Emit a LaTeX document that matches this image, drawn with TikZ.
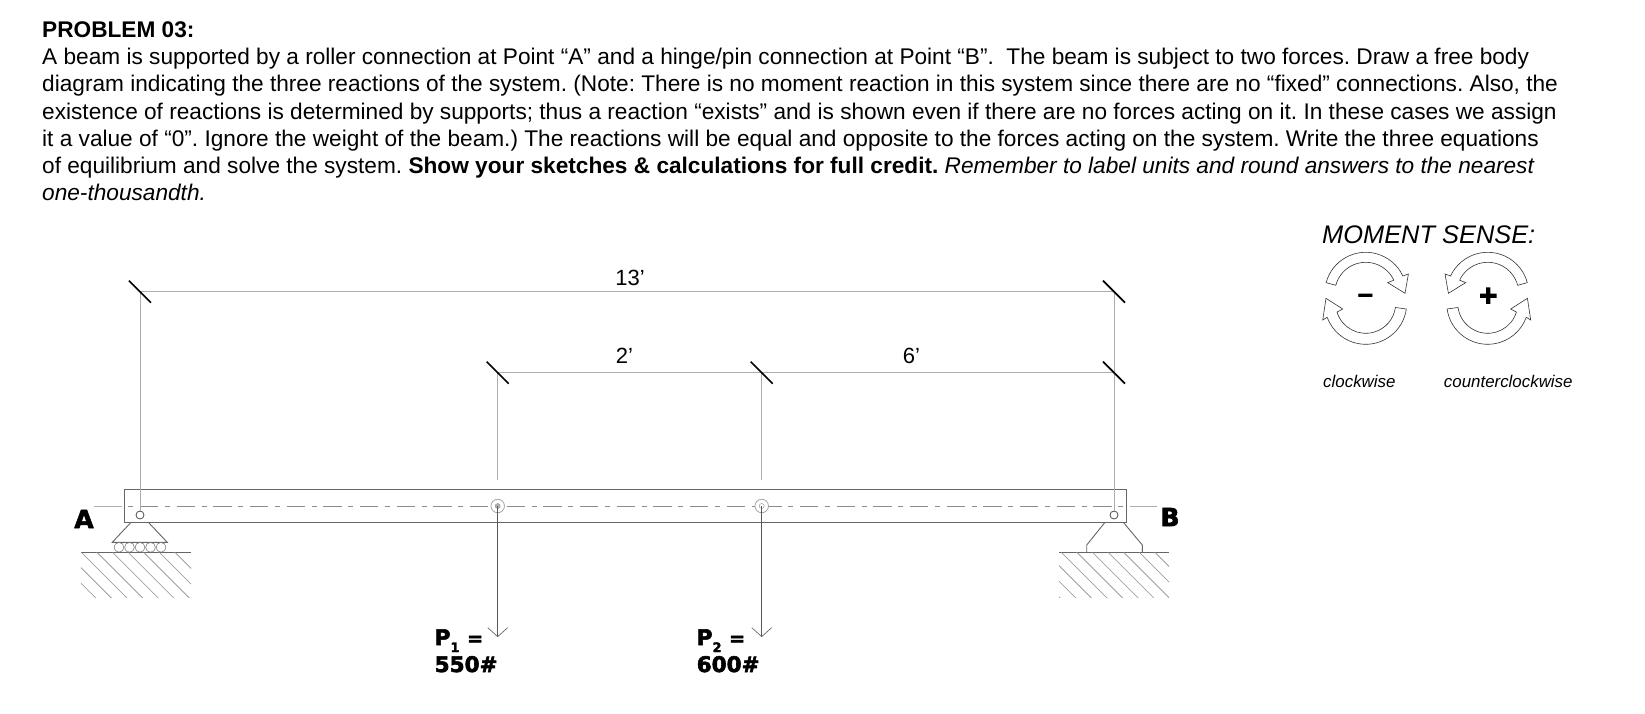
\documentclass[tikz,border=0pt]{standalone}
\usepackage{fontspec}
\setmainfont{Liberation Sans}
\newfontfamily\heavyfont[FakeBold=2.5]{DejaVu Sans Bold}
\newfontfamily\blackfont[FakeBold=6]{DejaVu Sans Bold}
\usetikzlibrary{arrows.meta,calc}

\tikzset{
  part/.style={draw=black!60,line width=0.9pt},
  guide/.style={draw=black!32,line width=0.8pt},
  roller/.style={draw=black!50,line width=0.6pt},
  hatch/.style={draw=black!45,line width=0.6pt},
  tick/.style={draw=black,line width=1.7pt},
  centerline/.style={draw=black!45,line width=0.8pt,dash pattern=on 5pt off 6.67pt on 18.33pt off 6.67pt},
  load/.style={draw=black!65,line width=1pt,-{Straight Barb[length=9pt,width=20pt,line width=0.6pt]}},
  pin/.style={circle,draw=black!70,fill=white,line width=0.8pt,inner sep=0pt,minimum size=8pt},
  joint/.style={circle,draw=black!35,fill=white,line width=0.8pt,inner sep=0pt,minimum size=13.5pt},
  turn/.style={draw=black!80,fill=white,line width=0.6pt},
  heavy/.style={font=\heavyfont\fontsize{21.5}{24}\selectfont,inner sep=0pt},
  moment/.pic={
    \path [turn] (195:41) arc[start angle=195,end angle=335,radius=41] -- (42.7,-19.3) -- (39.3,0)
      -- (22,-10.7) -- (335:31) arc[start angle=335,end angle=195,radius=31] -- cycle;
    \path [turn] (8:41) ++(0,10) arc[start angle=8,end angle=160,radius=41] -- (-43,26.7) -- (-39.7,5)
      -- (-23,15.7) -- ($(163:30)+(0,10)$) arc[start angle=163,end angle=8,radius=30] -- cycle;
  }
}

\begin{document}
\begin{tikzpicture}[x=1pt,y=-1pt]
  \useasboundingbox (0,0) rectangle (1645,713);

  \node (problem) [anchor=north west,inner sep=0pt,align=left,font=\frenchspacing\fontsize{22.65}{27.2}\selectfont] at (42,21.5) {%
    \textbf{PROBLEM 03:}\\
    A beam is supported by a roller connection at Point “A” and a hinge/pin connection at Point “B”.\ \ The beam is subject to two forces. Draw a free body\\
    diagram indicating the three reactions of the system. (Note: There is no moment reaction in this system since there are no “fixed” connections. Also, the\\
    existence of reactions is determined by supports; thus a reaction “exists” and is shown even if there are no forces acting on it. In these cases we assign\\
    it a value of “0”. Ignore the weight of the beam.) The reactions will be equal and opposite to the forces acting on the system. Write the three equations\\
    of equilibrium and solve the system. \textbf{Show your sketches \& calculations for full credit.} \textit{Remember to label units and round answers to the nearest}\\
    \textit{one-thousandth.}};

  % beam
  \node (beam) [part,minimum width=1002pt,minimum height=33pt,inner sep=0pt,anchor=north west] at (124,489) {};
  \draw [guide] (94.3,506) -- (121.7,506);
  \draw [guide] (1130,506) -- (1156.7,506);
  \draw [centerline] (128.3,506) -- (1123.5,506);

  \node (pinA) [pin] at (140,515) {};
  \node (pinB) [pin] at (1114,515) {};
  \node (P1) [joint] at (497.7,506) {};
  \node (P2) [joint] at (761.7,506) {};
  \node (P1in) [circle,draw=black!45,fill=black!30,inner sep=0pt,minimum size=5pt] at (P1) {};
  \node (P2in) [circle,draw=black!45,fill=white,inner sep=0pt,minimum size=5pt] at (P2) {};

  % dimensions
  \coordinate (dA) at (140,291.7);
  \coordinate (dB) at (1114,291.7);
  \coordinate (d1) at (497.7,372.7);
  \coordinate (d2) at (761.7,372.7);
  \coordinate (d3) at (1114,372.7);
  \coordinate (e1) at (497.7,480);
  \coordinate (e2) at (761.7,480);
  \path [guide] (dA) -- (pinA.north);
  \path [guide] (dB) -- (pinB.north);
  \path [guide] (d1) -- (e1);
  \path [guide] (d2) -- (e2);
  \path [guide] (dA) -- (dB);
  \path [guide] (d1) -- (d3);
  \foreach \pt in {dA,dB,d1,d2,d3}
    \draw [tick] ($(\pt)+(-11,-11)$) -- ($(\pt)+(11,11)$);
  \node (len13) [font=\fontsize{22}{24}\selectfont,inner sep=0pt] at (630,277.5) {13’};
  \node (len2) [font=\fontsize{22}{24}\selectfont,inner sep=0pt] at (624.5,355.5) {2’};
  \node (len6) [font=\fontsize{22}{24}\selectfont,inner sep=0pt] at (911.5,355.5) {6’};

  % loads
  \coordinate (tip1) at (497.7,637);
  \coordinate (tip2) at (761.7,637);
  \path [load] (P1.center) -- (tip1);
  \path [load] (P2.center) -- (tip2);
  \node (P1lab) [heavy,anchor=base west] at (434.5,645) {P};
  \node (P1sub) [heavy,anchor=base,font=\heavyfont\fontsize{13}{14}\selectfont] at (455,652) {1};
  \node (P1eq) [heavy,anchor=base west,font=\heavyfont\fontsize{19}{24}\selectfont] at (467,645) {=};
  \node (P1val) [heavy,anchor=base west] at (434.5,672) {550\#};
  \node (P2lab) [heavy,anchor=base west] at (696.5,645) {P};
  \node (P2sub) [heavy,anchor=base,font=\heavyfont\fontsize{13}{14}\selectfont] at (717,652) {2};
  \node (P2eq) [heavy,anchor=base west,font=\heavyfont\fontsize{19}{24}\selectfont] at (729,645) {=};
  \node (P2val) [heavy,anchor=base west] at (696.5,672) {600\#};

  % supports
  \node (A) [heavy,font=\heavyfont\fontsize{25}{27}\selectfont] at (84,519) {A};
  \node (B) [heavy,font=\heavyfont\fontsize{25}{27}\selectfont] at (1170,517) {B};
  \draw [part] (131,522.3) -- (112.3,542.3) -- (167.3,542.3) -- (148.3,522.3);
  \foreach \cx in {119,129.5,140,150.5,161}
    \draw [roller] (\cx,547.3) circle (4.9);
  \draw [part] (1105,522.3) -- (1086.7,545) -- (1086.7,552);
  \draw [part] (1123.3,522.3) -- (1142.3,545) -- (1142.3,552);
  \foreach \gx/\gs in {81/0,1059/2} {
    \draw [part] (\gx,552) -- ++(110,0);
    \begin{scope}
      \clip (\gx,552) rectangle ++(110,45);
      \foreach \k in {-3,...,6}
        \draw [hatch] (\gx+\gs+\k*15.6,552) -- ++(50,50);
    \end{scope}
  }

  % moment sense
  \node (sense) [anchor=base west,inner sep=0pt,font=\itshape\fontsize{25.4}{28}\selectfont] at (1322,243) {MOMENT SENSE:};
  \pic (cw) at (1365.7,293.3) {moment};
  \pic (ccw) [xscale=-1] at (1487.7,293.3) {moment};
  \node (minus) [heavy] at (1365.3,298) {−};
  \node (plus) [heavy,font=\blackfont\fontsize{24}{24}\selectfont] at (1488.3,295.7) {+};
  \node (cwlab) [anchor=base west,inner sep=0pt,font=\itshape\fontsize{16.9}{18}\selectfont] at (1323,387.7) {clockwise};
  \node (ccwlab) [anchor=base west,inner sep=0pt,font=\itshape\fontsize{16.9}{18}\selectfont] at (1443.7,387.7) {counterclockwise};
\end{tikzpicture}
\end{document}
